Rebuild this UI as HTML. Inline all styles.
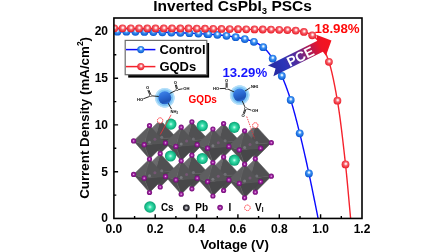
<!DOCTYPE html>
<html><head><meta charset="utf-8"><title>Inverted CsPbI3 PSCs</title>
<style>html,body{margin:0;padding:0;background:#fff;overflow:hidden}svg{display:block}</style></head>
<body>
<svg width="448" height="252" viewBox="0 0 448 252" font-family="Liberation Sans, Arial, sans-serif" font-weight="bold">
<defs>
<radialGradient id="gb" cx="0.5" cy="0.42" r="0.6" fx="0.52" fy="0.38"><stop offset="0" stop-color="#ffffff"/><stop offset="0.14" stop-color="#d8ecff"/><stop offset="0.4" stop-color="#3f93f2"/><stop offset="0.8" stop-color="#1467dc"/><stop offset="1" stop-color="#0b50c4"/></radialGradient>
<radialGradient id="gr" cx="0.5" cy="0.45" r="0.6" fx="0.56" fy="0.42"><stop offset="0" stop-color="#ffffff"/><stop offset="0.14" stop-color="#ffe4e4"/><stop offset="0.42" stop-color="#f4606a"/><stop offset="0.8" stop-color="#ee2832"/><stop offset="1" stop-color="#e41824"/></radialGradient>
<radialGradient id="gcs" cx="0.5" cy="0.5" r="0.55"><stop offset="0" stop-color="#d4fff4"/><stop offset="0.3" stop-color="#3ce0ac"/><stop offset="0.72" stop-color="#14b886"/><stop offset="1" stop-color="#0a8c66"/></radialGradient>
<radialGradient id="gi" cx="0.5" cy="0.5" r="0.55"><stop offset="0" stop-color="#f4b8f4"/><stop offset="0.4" stop-color="#9c249f"/><stop offset="1" stop-color="#6a066e"/></radialGradient>
<radialGradient id="gpb" cx="0.5" cy="0.5" r="0.55"><stop offset="0" stop-color="#d4d4dc"/><stop offset="0.28" stop-color="#9a9aa2"/><stop offset="0.52" stop-color="#3a3a40"/><stop offset="1" stop-color="#141418"/></radialGradient>
<linearGradient id="gq" x1="0.25" y1="0" x2="0.6" y2="1"><stop offset="0" stop-color="#3f86ea"/><stop offset="0.45" stop-color="#2a69d2"/><stop offset="0.8" stop-color="#1f54b6"/><stop offset="1" stop-color="#2f6fd6"/></linearGradient>
<radialGradient id="gh" cx="0.5" cy="0.5" r="0.5"><stop offset="0" stop-color="#78c0f4"/><stop offset="0.76" stop-color="#80c6f5"/><stop offset="0.82" stop-color="#a8d9f8"/><stop offset="0.94" stop-color="#bfe4fa"/><stop offset="1" stop-color="#e8f5fd" stop-opacity="0"/></radialGradient>
<linearGradient id="garr" x1="0" y1="0" x2="1" y2="0"><stop offset="0" stop-color="#26289e"/><stop offset="0.22" stop-color="#2a34b8"/><stop offset="0.45" stop-color="#5a2a98"/><stop offset="0.65" stop-color="#b01a54"/><stop offset="0.82" stop-color="#ee1426"/><stop offset="1" stop-color="#f6141e"/></linearGradient>
</defs>
<rect width="448" height="252" fill="#fff"/>
<text x="232.6" y="10.9" font-size="15.5" text-anchor="middle" fill="#000">Inverted CsPbI<tspan font-size="9.5" dy="3">3</tspan><tspan dy="-3"> PSCs</tspan></text>
<g>
<polygon points="144.3,135.4 160.2,120.0 154.9,139.2" fill="#6a6a6c" stroke="#6a6a6c" stroke-width="0.5" stroke-linejoin="round" />
<polygon points="160.2,120.0 176.2,137.4 154.9,139.2" fill="#505052" stroke="#505052" stroke-width="0.5" stroke-linejoin="round" />
<polygon points="144.3,135.4 154.9,139.2 160.2,153.5" fill="#5a5a5c" stroke="#5a5a5c" stroke-width="0.5" stroke-linejoin="round" />
<polygon points="154.9,139.2 176.2,137.4 160.2,153.5" fill="#4a4a4c" stroke="#4a4a4c" stroke-width="0.5" stroke-linejoin="round" />
<path d="M154.9,139.2 L160.2,120.0 M154.9,139.2 L144.3,135.4 M154.9,139.2 L176.2,137.4 M154.9,139.2 L160.2,153.5" stroke="#7a7a7c" stroke-width="0.45" fill="none" opacity="0.55"/>
<polygon points="176.0,137.2 191.9,121.8 186.6,140.9" fill="#6a6a6c" stroke="#6a6a6c" stroke-width="0.5" stroke-linejoin="round" />
<polygon points="191.9,121.8 207.9,139.2 186.6,140.9" fill="#505052" stroke="#505052" stroke-width="0.5" stroke-linejoin="round" />
<polygon points="176.0,137.2 186.6,140.9 191.9,155.2" fill="#5a5a5c" stroke="#5a5a5c" stroke-width="0.5" stroke-linejoin="round" />
<polygon points="186.6,140.9 207.9,139.2 191.9,155.2" fill="#4a4a4c" stroke="#4a4a4c" stroke-width="0.5" stroke-linejoin="round" />
<path d="M186.6,140.9 L191.9,121.8 M186.6,140.9 L176.0,137.2 M186.6,140.9 L207.9,139.2 M186.6,140.9 L191.9,155.2" stroke="#7a7a7c" stroke-width="0.45" fill="none" opacity="0.55"/>
<polygon points="207.7,138.9 223.6,123.5 218.3,142.7" fill="#6a6a6c" stroke="#6a6a6c" stroke-width="0.5" stroke-linejoin="round" />
<polygon points="223.6,123.5 239.6,140.9 218.3,142.7" fill="#505052" stroke="#505052" stroke-width="0.5" stroke-linejoin="round" />
<polygon points="207.7,138.9 218.3,142.7 223.6,157.0" fill="#5a5a5c" stroke="#5a5a5c" stroke-width="0.5" stroke-linejoin="round" />
<polygon points="218.3,142.7 239.6,140.9 223.6,157.0" fill="#4a4a4c" stroke="#4a4a4c" stroke-width="0.5" stroke-linejoin="round" />
<path d="M218.3,142.7 L223.6,123.5 M218.3,142.7 L207.7,138.9 M218.3,142.7 L239.6,140.9 M218.3,142.7 L223.6,157.0" stroke="#7a7a7c" stroke-width="0.45" fill="none" opacity="0.55"/>
<polygon points="239.4,140.7 255.3,125.2 250.0,144.4" fill="#6a6a6c" stroke="#6a6a6c" stroke-width="0.5" stroke-linejoin="round" />
<polygon points="255.3,125.2 271.3,142.7 250.0,144.4" fill="#505052" stroke="#505052" stroke-width="0.5" stroke-linejoin="round" />
<polygon points="239.4,140.7 250.0,144.4 255.3,158.8" fill="#5a5a5c" stroke="#5a5a5c" stroke-width="0.5" stroke-linejoin="round" />
<polygon points="250.0,144.4 271.3,142.7 255.3,158.8" fill="#4a4a4c" stroke="#4a4a4c" stroke-width="0.5" stroke-linejoin="round" />
<path d="M250.0,144.4 L255.3,125.2 M250.0,144.4 L239.4,140.7 M250.0,144.4 L271.3,142.7 M250.0,144.4 L255.3,158.8" stroke="#7a7a7c" stroke-width="0.45" fill="none" opacity="0.55"/>
<polygon points="144.3,168.9 160.2,153.5 154.9,172.7" fill="#6a6a6c" stroke="#6a6a6c" stroke-width="0.5" stroke-linejoin="round" />
<polygon points="160.2,153.5 176.2,170.9 154.9,172.7" fill="#505052" stroke="#505052" stroke-width="0.5" stroke-linejoin="round" />
<polygon points="144.3,168.9 154.9,172.7 160.2,187.0" fill="#5a5a5c" stroke="#5a5a5c" stroke-width="0.5" stroke-linejoin="round" />
<polygon points="154.9,172.7 176.2,170.9 160.2,187.0" fill="#4a4a4c" stroke="#4a4a4c" stroke-width="0.5" stroke-linejoin="round" />
<path d="M154.9,172.7 L160.2,153.5 M154.9,172.7 L144.3,168.9 M154.9,172.7 L176.2,170.9 M154.9,172.7 L160.2,187.0" stroke="#7a7a7c" stroke-width="0.45" fill="none" opacity="0.55"/>
<polygon points="176.0,170.7 191.9,155.2 186.6,174.4" fill="#6a6a6c" stroke="#6a6a6c" stroke-width="0.5" stroke-linejoin="round" />
<polygon points="191.9,155.2 207.9,172.7 186.6,174.4" fill="#505052" stroke="#505052" stroke-width="0.5" stroke-linejoin="round" />
<polygon points="176.0,170.7 186.6,174.4 191.9,188.8" fill="#5a5a5c" stroke="#5a5a5c" stroke-width="0.5" stroke-linejoin="round" />
<polygon points="186.6,174.4 207.9,172.7 191.9,188.8" fill="#4a4a4c" stroke="#4a4a4c" stroke-width="0.5" stroke-linejoin="round" />
<path d="M186.6,174.4 L191.9,155.2 M186.6,174.4 L176.0,170.7 M186.6,174.4 L207.9,172.7 M186.6,174.4 L191.9,188.8" stroke="#7a7a7c" stroke-width="0.45" fill="none" opacity="0.55"/>
<polygon points="207.7,172.4 223.6,157.0 218.3,176.2" fill="#6a6a6c" stroke="#6a6a6c" stroke-width="0.5" stroke-linejoin="round" />
<polygon points="223.6,157.0 239.6,174.4 218.3,176.2" fill="#505052" stroke="#505052" stroke-width="0.5" stroke-linejoin="round" />
<polygon points="207.7,172.4 218.3,176.2 223.6,190.5" fill="#5a5a5c" stroke="#5a5a5c" stroke-width="0.5" stroke-linejoin="round" />
<polygon points="218.3,176.2 239.6,174.4 223.6,190.5" fill="#4a4a4c" stroke="#4a4a4c" stroke-width="0.5" stroke-linejoin="round" />
<path d="M218.3,176.2 L223.6,157.0 M218.3,176.2 L207.7,172.4 M218.3,176.2 L239.6,174.4 M218.3,176.2 L223.6,190.5" stroke="#7a7a7c" stroke-width="0.45" fill="none" opacity="0.55"/>
<polygon points="239.4,174.2 255.3,158.8 250.0,177.9" fill="#6a6a6c" stroke="#6a6a6c" stroke-width="0.5" stroke-linejoin="round" />
<polygon points="255.3,158.8 271.3,176.2 250.0,177.9" fill="#505052" stroke="#505052" stroke-width="0.5" stroke-linejoin="round" />
<polygon points="239.4,174.2 250.0,177.9 255.3,192.2" fill="#5a5a5c" stroke="#5a5a5c" stroke-width="0.5" stroke-linejoin="round" />
<polygon points="250.0,177.9 271.3,176.2 255.3,192.2" fill="#4a4a4c" stroke="#4a4a4c" stroke-width="0.5" stroke-linejoin="round" />
<path d="M250.0,177.9 L255.3,158.8 M250.0,177.9 L239.4,174.2 M250.0,177.9 L271.3,176.2 M250.0,177.9 L255.3,192.2" stroke="#7a7a7c" stroke-width="0.45" fill="none" opacity="0.55"/>
<polygon points="133.6,140.9 149.5,125.5 144.2,144.7" fill="#5e5e60" stroke="#5e5e60" stroke-width="0.5" stroke-linejoin="round" />
<polygon points="149.5,125.5 165.5,142.9 144.2,144.7" fill="#545456" stroke="#545456" stroke-width="0.5" stroke-linejoin="round" />
<polygon points="133.6,140.9 144.2,144.7 149.5,159.0" fill="#505052" stroke="#505052" stroke-width="0.5" stroke-linejoin="round" />
<polygon points="144.2,144.7 165.5,142.9 149.5,159.0" fill="#474749" stroke="#474749" stroke-width="0.5" stroke-linejoin="round" />
<path d="M144.2,144.7 L149.5,125.5 M144.2,144.7 L133.6,140.9 M144.2,144.7 L165.5,142.9 M144.2,144.7 L149.5,159.0" stroke="#7a7a7c" stroke-width="0.45" fill="none" opacity="0.55"/>
<polygon points="165.3,142.7 181.2,127.2 175.9,146.4" fill="#5e5e60" stroke="#5e5e60" stroke-width="0.5" stroke-linejoin="round" />
<polygon points="181.2,127.2 197.2,144.7 175.9,146.4" fill="#545456" stroke="#545456" stroke-width="0.5" stroke-linejoin="round" />
<polygon points="165.3,142.7 175.9,146.4 181.2,160.8" fill="#505052" stroke="#505052" stroke-width="0.5" stroke-linejoin="round" />
<polygon points="175.9,146.4 197.2,144.7 181.2,160.8" fill="#474749" stroke="#474749" stroke-width="0.5" stroke-linejoin="round" />
<path d="M175.9,146.4 L181.2,127.2 M175.9,146.4 L165.3,142.7 M175.9,146.4 L197.2,144.7 M175.9,146.4 L181.2,160.8" stroke="#7a7a7c" stroke-width="0.45" fill="none" opacity="0.55"/>
<polygon points="197.0,144.4 212.9,129.0 207.6,148.2" fill="#5e5e60" stroke="#5e5e60" stroke-width="0.5" stroke-linejoin="round" />
<polygon points="212.9,129.0 228.9,146.4 207.6,148.2" fill="#545456" stroke="#545456" stroke-width="0.5" stroke-linejoin="round" />
<polygon points="197.0,144.4 207.6,148.2 212.9,162.5" fill="#505052" stroke="#505052" stroke-width="0.5" stroke-linejoin="round" />
<polygon points="207.6,148.2 228.9,146.4 212.9,162.5" fill="#474749" stroke="#474749" stroke-width="0.5" stroke-linejoin="round" />
<path d="M207.6,148.2 L212.9,129.0 M207.6,148.2 L197.0,144.4 M207.6,148.2 L228.9,146.4 M207.6,148.2 L212.9,162.5" stroke="#7a7a7c" stroke-width="0.45" fill="none" opacity="0.55"/>
<polygon points="228.7,146.2 244.6,130.8 239.3,149.9" fill="#5e5e60" stroke="#5e5e60" stroke-width="0.5" stroke-linejoin="round" />
<polygon points="244.6,130.8 260.6,148.2 239.3,149.9" fill="#545456" stroke="#545456" stroke-width="0.5" stroke-linejoin="round" />
<polygon points="228.7,146.2 239.3,149.9 244.6,164.2" fill="#505052" stroke="#505052" stroke-width="0.5" stroke-linejoin="round" />
<polygon points="239.3,149.9 260.6,148.2 244.6,164.2" fill="#474749" stroke="#474749" stroke-width="0.5" stroke-linejoin="round" />
<path d="M239.3,149.9 L244.6,130.8 M239.3,149.9 L228.7,146.2 M239.3,149.9 L260.6,148.2 M239.3,149.9 L244.6,164.2" stroke="#7a7a7c" stroke-width="0.45" fill="none" opacity="0.55"/>
<polygon points="133.6,174.4 149.5,159.0 144.2,178.2" fill="#5e5e60" stroke="#5e5e60" stroke-width="0.5" stroke-linejoin="round" />
<polygon points="149.5,159.0 165.5,176.4 144.2,178.2" fill="#545456" stroke="#545456" stroke-width="0.5" stroke-linejoin="round" />
<polygon points="133.6,174.4 144.2,178.2 149.5,192.5" fill="#505052" stroke="#505052" stroke-width="0.5" stroke-linejoin="round" />
<polygon points="144.2,178.2 165.5,176.4 149.5,192.5" fill="#474749" stroke="#474749" stroke-width="0.5" stroke-linejoin="round" />
<path d="M144.2,178.2 L149.5,159.0 M144.2,178.2 L133.6,174.4 M144.2,178.2 L165.5,176.4 M144.2,178.2 L149.5,192.5" stroke="#7a7a7c" stroke-width="0.45" fill="none" opacity="0.55"/>
<polygon points="165.3,176.2 181.2,160.8 175.9,179.9" fill="#5e5e60" stroke="#5e5e60" stroke-width="0.5" stroke-linejoin="round" />
<polygon points="181.2,160.8 197.2,178.2 175.9,179.9" fill="#545456" stroke="#545456" stroke-width="0.5" stroke-linejoin="round" />
<polygon points="165.3,176.2 175.9,179.9 181.2,194.2" fill="#505052" stroke="#505052" stroke-width="0.5" stroke-linejoin="round" />
<polygon points="175.9,179.9 197.2,178.2 181.2,194.2" fill="#474749" stroke="#474749" stroke-width="0.5" stroke-linejoin="round" />
<path d="M175.9,179.9 L181.2,160.8 M175.9,179.9 L165.3,176.2 M175.9,179.9 L197.2,178.2 M175.9,179.9 L181.2,194.2" stroke="#7a7a7c" stroke-width="0.45" fill="none" opacity="0.55"/>
<polygon points="197.0,177.9 212.9,162.5 207.6,181.7" fill="#5e5e60" stroke="#5e5e60" stroke-width="0.5" stroke-linejoin="round" />
<polygon points="212.9,162.5 228.9,179.9 207.6,181.7" fill="#545456" stroke="#545456" stroke-width="0.5" stroke-linejoin="round" />
<polygon points="197.0,177.9 207.6,181.7 212.9,196.0" fill="#505052" stroke="#505052" stroke-width="0.5" stroke-linejoin="round" />
<polygon points="207.6,181.7 228.9,179.9 212.9,196.0" fill="#474749" stroke="#474749" stroke-width="0.5" stroke-linejoin="round" />
<path d="M207.6,181.7 L212.9,162.5 M207.6,181.7 L197.0,177.9 M207.6,181.7 L228.9,179.9 M207.6,181.7 L212.9,196.0" stroke="#7a7a7c" stroke-width="0.45" fill="none" opacity="0.55"/>
<polygon points="228.7,179.7 244.6,164.2 239.3,183.4" fill="#5e5e60" stroke="#5e5e60" stroke-width="0.5" stroke-linejoin="round" />
<polygon points="244.6,164.2 260.6,181.7 239.3,183.4" fill="#545456" stroke="#545456" stroke-width="0.5" stroke-linejoin="round" />
<polygon points="228.7,179.7 239.3,183.4 244.6,197.8" fill="#505052" stroke="#505052" stroke-width="0.5" stroke-linejoin="round" />
<polygon points="239.3,183.4 260.6,181.7 244.6,197.8" fill="#474749" stroke="#474749" stroke-width="0.5" stroke-linejoin="round" />
<path d="M239.3,183.4 L244.6,164.2 M239.3,183.4 L228.7,179.7 M239.3,183.4 L260.6,181.7 M239.3,183.4 L244.6,197.8" stroke="#7a7a7c" stroke-width="0.45" fill="none" opacity="0.55"/>
<circle cx="149.5" cy="142.2" r="1.5" fill="#85858c" opacity="0.75"/>
<circle cx="154.9" cy="139.2" r="1.5" fill="#80587f" opacity="0.75"/>
<circle cx="161.7" cy="137.2" r="1.5" fill="#7a7a80" opacity="0.75"/>
<circle cx="181.2" cy="144.0" r="1.5" fill="#85858c" opacity="0.75"/>
<circle cx="186.6" cy="140.9" r="1.5" fill="#80587f" opacity="0.75"/>
<circle cx="193.4" cy="139.0" r="1.5" fill="#7a7a80" opacity="0.75"/>
<circle cx="212.9" cy="145.8" r="1.5" fill="#85858c" opacity="0.75"/>
<circle cx="218.3" cy="142.7" r="1.5" fill="#80587f" opacity="0.75"/>
<circle cx="225.1" cy="140.8" r="1.5" fill="#7a7a80" opacity="0.75"/>
<circle cx="244.6" cy="147.5" r="1.5" fill="#85858c" opacity="0.75"/>
<circle cx="250.0" cy="144.4" r="1.5" fill="#80587f" opacity="0.75"/>
<circle cx="256.8" cy="142.5" r="1.5" fill="#7a7a80" opacity="0.75"/>
<circle cx="149.5" cy="175.8" r="1.5" fill="#85858c" opacity="0.75"/>
<circle cx="154.9" cy="172.7" r="1.5" fill="#80587f" opacity="0.75"/>
<circle cx="161.7" cy="170.8" r="1.5" fill="#7a7a80" opacity="0.75"/>
<circle cx="181.2" cy="177.5" r="1.5" fill="#85858c" opacity="0.75"/>
<circle cx="186.6" cy="174.4" r="1.5" fill="#80587f" opacity="0.75"/>
<circle cx="193.4" cy="172.5" r="1.5" fill="#7a7a80" opacity="0.75"/>
<circle cx="212.9" cy="179.2" r="1.5" fill="#85858c" opacity="0.75"/>
<circle cx="218.3" cy="176.2" r="1.5" fill="#80587f" opacity="0.75"/>
<circle cx="225.1" cy="174.2" r="1.5" fill="#7a7a80" opacity="0.75"/>
<circle cx="244.6" cy="181.0" r="1.5" fill="#85858c" opacity="0.75"/>
<circle cx="250.0" cy="177.9" r="1.5" fill="#80587f" opacity="0.75"/>
<circle cx="256.8" cy="176.0" r="1.5" fill="#7a7a80" opacity="0.75"/>
<circle cx="149.5" cy="125.5" r="2.6" fill="url(#gi)"/>
<circle cx="144.2" cy="144.7" r="2.6" fill="url(#gi)"/>
<circle cx="133.6" cy="140.9" r="2.6" fill="url(#gi)"/>
<circle cx="165.5" cy="142.9" r="2.6" fill="url(#gi)"/>
<circle cx="181.2" cy="127.2" r="2.6" fill="url(#gi)"/>
<circle cx="175.9" cy="146.4" r="2.6" fill="url(#gi)"/>
<circle cx="197.2" cy="144.7" r="2.6" fill="url(#gi)"/>
<circle cx="191.9" cy="121.8" r="2.6" fill="url(#gi)"/>
<circle cx="212.9" cy="129.0" r="2.6" fill="url(#gi)"/>
<circle cx="207.6" cy="148.2" r="2.6" fill="url(#gi)"/>
<circle cx="228.9" cy="146.4" r="2.6" fill="url(#gi)"/>
<circle cx="223.6" cy="123.5" r="2.6" fill="url(#gi)"/>
<circle cx="244.6" cy="130.8" r="2.6" fill="url(#gi)"/>
<circle cx="239.3" cy="149.9" r="2.6" fill="url(#gi)"/>
<circle cx="260.6" cy="148.2" r="2.6" fill="url(#gi)"/>
<circle cx="271.3" cy="142.7" r="2.6" fill="url(#gi)"/>
<circle cx="149.5" cy="159.0" r="2.6" fill="url(#gi)"/>
<circle cx="144.2" cy="178.2" r="2.6" fill="url(#gi)"/>
<circle cx="133.6" cy="174.4" r="2.6" fill="url(#gi)"/>
<circle cx="165.5" cy="176.4" r="2.6" fill="url(#gi)"/>
<circle cx="149.5" cy="192.5" r="2.6" fill="url(#gi)"/>
<circle cx="160.2" cy="153.5" r="2.6" fill="url(#gi)"/>
<circle cx="160.2" cy="187.0" r="2.6" fill="url(#gi)"/>
<circle cx="181.2" cy="160.8" r="2.6" fill="url(#gi)"/>
<circle cx="175.9" cy="179.9" r="2.6" fill="url(#gi)"/>
<circle cx="197.2" cy="178.2" r="2.6" fill="url(#gi)"/>
<circle cx="181.2" cy="194.2" r="2.6" fill="url(#gi)"/>
<circle cx="191.9" cy="155.2" r="2.6" fill="url(#gi)"/>
<circle cx="191.9" cy="188.8" r="2.6" fill="url(#gi)"/>
<circle cx="212.9" cy="162.5" r="2.6" fill="url(#gi)"/>
<circle cx="207.6" cy="181.7" r="2.6" fill="url(#gi)"/>
<circle cx="228.9" cy="179.9" r="2.6" fill="url(#gi)"/>
<circle cx="212.9" cy="196.0" r="2.6" fill="url(#gi)"/>
<circle cx="223.6" cy="157.0" r="2.6" fill="url(#gi)"/>
<circle cx="223.6" cy="190.5" r="2.6" fill="url(#gi)"/>
<circle cx="244.6" cy="164.2" r="2.6" fill="url(#gi)"/>
<circle cx="239.3" cy="183.4" r="2.6" fill="url(#gi)"/>
<circle cx="260.6" cy="181.7" r="2.6" fill="url(#gi)"/>
<circle cx="244.6" cy="197.8" r="2.6" fill="url(#gi)"/>
<circle cx="255.3" cy="158.8" r="2.6" fill="url(#gi)"/>
<circle cx="255.3" cy="192.2" r="2.6" fill="url(#gi)"/>
<circle cx="271.3" cy="176.2" r="2.6" fill="url(#gi)"/>
<circle cx="170.9" cy="124.1" r="5.6" fill="url(#gcs)"/>
<circle cx="202.3" cy="125.7" r="5.6" fill="url(#gcs)"/>
<circle cx="234.3" cy="127.3" r="5.6" fill="url(#gcs)"/>
<circle cx="170.5" cy="156.0" r="5.6" fill="url(#gcs)"/>
<circle cx="202.3" cy="158.5" r="5.6" fill="url(#gcs)"/>
<circle cx="234.3" cy="160.2" r="5.6" fill="url(#gcs)"/>
</g>
<line x1="171.1" y1="114.8" x2="160.3" y2="134.5" stroke="#f03038" stroke-width="0.8"/>
<line x1="246.7" y1="116.5" x2="254.5" y2="138.3" stroke="#f03038" stroke-width="0.8" stroke-dasharray="1.6 0.9"/>
<circle cx="160.1" cy="120.5" r="2.7" fill="#fff" stroke="#ff3038" stroke-width="1" stroke-dasharray="1.4 0.7"/>
<circle cx="255.3" cy="125.4" r="2.7" fill="#fff" stroke="#ff3038" stroke-width="1" stroke-dasharray="1.4 0.7"/>
<circle cx="164.8" cy="97.8" r="10.4" fill="url(#gh)"/>
<g stroke="#111" stroke-width="0.9" fill="none">
<path d="M160,96.6 L151.3,95.8 M149.6,94.4 L147.8,90.2 M150.6,94.1 L148.8,89.9 M149.2,96.6 L143.3,98.8"/>
<path d="M169.5,93.6 L175.6,90.6 M176.3,88.5 L175.3,84.8 M177.3,88.3 L176.3,84.6 M178.2,89.6 L182.6,88.8"/>
<path d="M167.8,102.6 L171.6,109.2"/>
</g>
<g font-size="4.1" fill="#000" text-anchor="middle">
<text x="150.3" y="96.9">C</text><text x="147.5" y="89.4">O</text><text x="140.0" y="100.9">HO</text>
<text x="176.9" y="91.2">C</text><text x="175.4" y="84.1">O</text><text x="186.3" y="89.8">OH</text>
<text x="174.3" y="113.3">NH<tspan font-size="2.6" dy="0.8">2</tspan></text>
</g>
<circle cx="164.8" cy="97.8" r="6.5" fill="url(#gq)"/>
<circle cx="239.7" cy="95.1" r="10.4" fill="url(#gh)"/>
<g stroke="#111" stroke-width="0.9" fill="none">
<path d="M234.6,92.2 L227.8,89 M226.1,87 L226.1,82.6 M227.1,87 L227.1,82.6 M225.2,88.4 L219.6,88.6"/>
<path d="M244.8,91.2 L250.3,87.6"/>
<path d="M242.2,100.8 L244.9,106.9 M246.8,108.7 L251.4,110.2 M244.6,109.7 L243.3,113.6 M245.6,110.0 L244.3,113.9"/>
</g>
<g font-size="4.1" fill="#000" text-anchor="middle">
<text x="226.6" y="89.6">C</text><text x="226.6" y="82.0">O</text><text x="216.0" y="90.0">HO</text>
<text x="254.6" y="87.6">NH<tspan font-size="2.6" dy="0.8">2</tspan></text>
<text x="245.4" y="109.6">C</text><text x="255.1" y="112.2">OH</text><text x="243.2" y="117.2">O</text>
</g>
<circle cx="239.7" cy="95.1" r="6.5" fill="url(#gq)"/>
<text x="188.6" y="102.7" font-size="10" fill="#ff0000">GQDs</text>
<circle cx="150" cy="207" r="5.8" fill="url(#gcs)"/>
<text x="160.9" y="210.6" font-size="10" fill="#000">Cs</text>
<circle cx="186.3" cy="207.8" r="3.4" fill="url(#gpb)"/>
<text x="195.3" y="210.6" font-size="10" fill="#000">Pb</text>
<circle cx="220.1" cy="207.6" r="2.8" fill="url(#gi)"/>
<text x="228.6" y="210.6" font-size="10" fill="#000">I</text>
<circle cx="247.4" cy="207.8" r="2.8" fill="#fff" stroke="#ff3038" stroke-width="1" stroke-dasharray="1.4 0.7"/>
<text x="255.1" y="210.6" font-size="10" fill="#000">V<tspan font-size="6.5" dy="1.8">I</tspan></text>
<path d="M134.6,218.45 v-2.4 M155.2,218.45 v-4.2 M175.9,218.45 v-2.4 M196.6,218.45 v-4.2 M217.3,218.45 v-2.4 M237.9,218.45 v-4.2 M258.6,218.45 v-2.4 M279.3,218.45 v-4.2 M300.0,218.45 v-2.4 M320.6,218.45 v-4.2 M341.3,218.45 v-2.4 M113.9,195.1 h2.4 M113.9,171.7 h4.2 M113.9,148.3 h2.4 M113.9,124.9 h4.2 M113.9,101.6 h2.4 M113.9,78.2 h4.2 M113.9,54.8 h2.4 M113.9,31.4 h4.2" stroke="#000" stroke-width="1.4" fill="none"/>
<clipPath id="clipf"><rect x="113.9" y="18.0" width="248.1" height="200.45"/></clipPath>
<g clip-path="url(#clipf)">
<path d="M113.9,31.70 L114.4,31.70 L114.9,31.70 L115.4,31.70 L115.9,31.70 L116.4,31.70 L116.9,31.70 L117.4,31.70 L117.9,31.70 L118.4,31.70 L118.9,31.70 L119.4,31.70 L119.9,31.70 L120.4,31.70 L120.9,31.71 L121.4,31.71 L121.9,31.71 L122.4,31.71 L122.9,31.71 L123.4,31.72 L123.9,31.72 L124.4,31.72 L124.9,31.72 L125.4,31.73 L125.9,31.73 L126.4,31.73 L126.9,31.74 L127.4,31.74 L127.9,31.74 L128.4,31.75 L128.9,31.75 L129.4,31.76 L129.9,31.76 L130.4,31.76 L130.9,31.77 L131.4,31.77 L131.9,31.77 L132.4,31.78 L132.9,31.78 L133.4,31.79 L133.9,31.79 L134.4,31.80 L134.9,31.80 L135.4,31.80 L135.9,31.81 L136.4,31.81 L136.9,31.82 L137.4,31.82 L137.9,31.83 L138.4,31.83 L138.9,31.84 L139.4,31.84 L139.9,31.85 L140.4,31.86 L140.9,31.86 L141.4,31.87 L141.9,31.88 L142.4,31.88 L142.9,31.89 L143.4,31.90 L143.9,31.90 L144.4,31.91 L144.9,31.92 L145.4,31.93 L145.9,31.94 L146.4,31.94 L146.9,31.95 L147.4,31.96 L147.9,31.97 L148.4,31.98 L148.9,31.99 L149.4,31.99 L149.9,32.00 L150.4,32.01 L150.9,32.02 L151.4,32.03 L151.9,32.04 L152.4,32.05 L152.9,32.06 L153.4,32.07 L153.9,32.08 L154.4,32.09 L154.9,32.10 L155.4,32.11 L155.9,32.12 L156.4,32.13 L156.9,32.14 L157.4,32.15 L157.9,32.16 L158.4,32.17 L158.9,32.19 L159.4,32.20 L159.9,32.21 L160.4,32.23 L160.9,32.24 L161.4,32.25 L161.9,32.27 L162.4,32.28 L162.9,32.29 L163.4,32.31 L163.9,32.32 L164.4,32.34 L164.9,32.35 L165.4,32.37 L165.9,32.38 L166.4,32.40 L166.9,32.41 L167.4,32.43 L167.9,32.44 L168.4,32.46 L168.9,32.48 L169.4,32.49 L169.9,32.51 L170.4,32.52 L170.9,32.54 L171.4,32.55 L171.9,32.57 L172.4,32.58 L172.9,32.60 L173.4,32.62 L173.9,32.63 L174.4,32.65 L174.9,32.66 L175.4,32.68 L175.9,32.69 L176.4,32.71 L176.9,32.72 L177.4,32.74 L177.9,32.75 L178.4,32.77 L178.9,32.79 L179.4,32.80 L179.9,32.82 L180.4,32.83 L180.9,32.85 L181.4,32.87 L181.9,32.88 L182.4,32.90 L182.9,32.92 L183.4,32.93 L183.9,32.95 L184.4,32.97 L184.9,32.99 L185.4,33.00 L185.9,33.02 L186.4,33.04 L186.9,33.06 L187.4,33.08 L187.9,33.10 L188.4,33.12 L188.9,33.14 L189.4,33.16 L189.9,33.18 L190.4,33.20 L190.9,33.22 L191.4,33.24 L191.9,33.27 L192.4,33.29 L192.9,33.31 L193.4,33.34 L193.9,33.36 L194.4,33.39 L194.9,33.41 L195.4,33.44 L195.9,33.46 L196.4,33.49 L196.9,33.52 L197.4,33.55 L197.9,33.57 L198.4,33.60 L198.9,33.63 L199.4,33.66 L199.9,33.69 L200.4,33.72 L200.9,33.75 L201.4,33.78 L201.9,33.80 L202.4,33.83 L202.9,33.86 L203.4,33.90 L203.9,33.93 L204.4,33.96 L204.9,33.99 L205.4,34.02 L205.9,34.05 L206.4,34.08 L206.9,34.11 L207.4,34.14 L207.9,34.17 L208.4,34.20 L208.9,34.23 L209.4,34.26 L209.9,34.29 L210.4,34.32 L210.9,34.35 L211.4,34.38 L211.9,34.41 L212.4,34.44 L212.9,34.47 L213.4,34.50 L213.9,34.54 L214.4,34.57 L214.9,34.60 L215.4,34.64 L215.9,34.68 L216.4,34.71 L216.9,34.75 L217.4,34.79 L217.9,34.83 L218.4,34.88 L218.9,34.92 L219.4,34.97 L219.9,35.02 L220.4,35.07 L220.9,35.12 L221.4,35.18 L221.9,35.23 L222.4,35.29 L222.9,35.35 L223.4,35.40 L223.9,35.46 L224.4,35.52 L224.9,35.59 L225.4,35.65 L225.9,35.71 L226.4,35.77 L226.9,35.84 L227.4,35.90 L227.9,35.97 L228.4,36.04 L228.9,36.11 L229.4,36.18 L229.9,36.26 L230.4,36.33 L230.9,36.41 L231.4,36.48 L231.9,36.56 L232.4,36.64 L232.9,36.72 L233.4,36.81 L233.9,36.89 L234.4,36.97 L234.9,37.06 L235.4,37.15 L235.9,37.24 L236.4,37.33 L236.9,37.42 L237.4,37.51 L237.9,37.60 L238.4,37.70 L238.9,37.80 L239.4,37.90 L239.9,38.00 L240.4,38.10 L240.9,38.21 L241.4,38.32 L241.9,38.43 L242.4,38.54 L242.9,38.65 L243.4,38.77 L243.9,38.88 L244.4,39.00 L244.9,39.12 L245.4,39.25 L245.9,39.37 L246.4,39.50 L246.9,39.62 L247.4,39.75 L247.9,39.88 L248.4,40.02 L248.9,40.16 L249.4,40.30 L249.9,40.44 L250.4,40.59 L250.9,40.75 L251.4,40.91 L251.9,41.07 L252.4,41.25 L252.9,41.42 L253.4,41.61 L253.9,41.80 L254.4,42.00 L254.9,42.21 L255.4,42.43 L255.9,42.65 L256.4,42.89 L256.9,43.14 L257.4,43.40 L257.9,43.66 L258.4,43.94 L258.9,44.23 L259.4,44.53 L259.9,44.84 L260.4,45.16 L260.9,45.49 L261.4,45.83 L261.9,46.18 L262.4,46.55 L262.9,46.92 L263.4,47.32 L263.9,47.74 L264.4,48.19 L264.9,48.67 L265.4,49.17 L265.9,49.69 L266.4,50.24 L266.9,50.81 L267.4,51.40 L267.9,52.01 L268.4,52.64 L268.9,53.28 L269.4,53.94 L269.9,54.61 L270.4,55.30 L270.9,56.00 L271.4,56.70 L271.9,57.42 L272.4,58.15 L272.9,58.89 L273.4,59.67 L273.9,60.47 L274.4,61.29 L274.9,62.14 L275.4,63.02 L275.9,63.92 L276.4,64.84 L276.9,65.78 L277.4,66.74 L277.9,67.72 L278.4,68.72 L278.9,69.74 L279.4,70.78 L279.9,71.83 L280.4,72.90 L280.9,73.98 L281.4,75.08 L281.9,76.19 L282.4,77.34 L282.9,78.51 L283.4,79.70 L283.9,80.93 L284.4,82.18 L284.9,83.45 L285.4,84.75 L285.9,86.08 L286.4,87.43 L286.9,88.81 L287.4,90.20 L287.9,91.63 L288.4,93.07 L288.9,94.54 L289.4,96.03 L289.9,97.55 L290.4,99.08 L290.9,100.64 L291.4,102.24 L291.9,103.89 L292.4,105.58 L292.9,107.31 L293.4,109.07 L293.9,110.87 L294.4,112.69 L294.9,114.55 L295.4,116.43 L295.9,118.33 L296.4,120.26 L296.9,122.20 L297.4,124.16 L297.9,126.13 L298.4,128.12 L298.9,130.11 L299.4,132.10 L299.9,134.10 L300.4,136.12 L300.9,138.17 L301.4,140.24 L301.9,142.33 L302.4,144.44 L302.9,146.58 L303.4,148.73 L303.9,150.90 L304.4,153.09 L304.9,155.30 L305.4,157.52 L305.9,159.75 L306.4,162.00 L306.9,164.26 L307.4,166.53 L307.9,168.81 L308.4,171.10 L308.9,173.40 L309.4,175.72 L309.9,178.06 L310.4,180.43 L310.9,182.82 L311.4,185.24 L311.9,187.67 L312.4,190.11 L312.9,192.57 L313.4,195.04 L313.9,197.51 L314.4,200.00 L314.9,202.48 L315.4,204.97 L315.9,207.45 L316.4,209.93 L316.9,212.41 L317.4,214.87 L317.9,217.32 L318.1,218.30" fill="none" stroke="#0a0aff" stroke-width="1.4"/>
<circle cx="117.4" cy="31.7" r="3.9" fill="url(#gb)"/>
<circle cx="126.4" cy="31.7" r="3.9" fill="url(#gb)"/>
<circle cx="135.4" cy="31.8" r="3.9" fill="url(#gb)"/>
<circle cx="144.4" cy="31.9" r="3.9" fill="url(#gb)"/>
<circle cx="153.4" cy="32.1" r="3.9" fill="url(#gb)"/>
<circle cx="162.4" cy="32.3" r="3.9" fill="url(#gb)"/>
<circle cx="171.4" cy="32.6" r="3.9" fill="url(#gb)"/>
<circle cx="180.4" cy="32.8" r="3.9" fill="url(#gb)"/>
<circle cx="189.4" cy="33.2" r="3.9" fill="url(#gb)"/>
<circle cx="198.4" cy="33.6" r="3.9" fill="url(#gb)"/>
<circle cx="207.4" cy="34.1" r="3.9" fill="url(#gb)"/>
<circle cx="208.3" cy="34.2" r="3.9" fill="url(#gb)"/>
<circle cx="217.4" cy="34.8" r="3.9" fill="url(#gb)"/>
<circle cx="226.5" cy="35.8" r="3.9" fill="url(#gb)"/>
<circle cx="235.7" cy="37.2" r="3.9" fill="url(#gb)"/>
<circle cx="244.8" cy="39.1" r="3.9" fill="url(#gb)"/>
<circle cx="253.9" cy="41.8" r="3.9" fill="url(#gb)"/>
<circle cx="263.2" cy="47.2" r="3.9" fill="url(#gb)"/>
<circle cx="272.7" cy="58.6" r="3.9" fill="url(#gb)"/>
<circle cx="281.8" cy="76.0" r="3.9" fill="url(#gb)"/>
<circle cx="290.7" cy="100.0" r="3.9" fill="url(#gb)"/>
<circle cx="299.7" cy="133.3" r="3.9" fill="url(#gb)"/>
<circle cx="308.9" cy="173.4" r="3.9" fill="url(#gb)"/>
<path d="M113.9,28.30 L114.4,28.30 L114.9,28.30 L115.4,28.30 L115.9,28.31 L116.4,28.31 L116.9,28.31 L117.4,28.31 L117.9,28.31 L118.4,28.31 L118.9,28.31 L119.4,28.31 L119.9,28.31 L120.4,28.32 L120.9,28.32 L121.4,28.32 L121.9,28.32 L122.4,28.32 L122.9,28.32 L123.4,28.32 L123.9,28.32 L124.4,28.32 L124.9,28.33 L125.4,28.33 L125.9,28.33 L126.4,28.33 L126.9,28.33 L127.4,28.33 L127.9,28.33 L128.4,28.33 L128.9,28.33 L129.4,28.34 L129.9,28.34 L130.4,28.34 L130.9,28.34 L131.4,28.34 L131.9,28.34 L132.4,28.34 L132.9,28.34 L133.4,28.34 L133.9,28.34 L134.4,28.34 L134.9,28.35 L135.4,28.35 L135.9,28.35 L136.4,28.35 L136.9,28.35 L137.4,28.35 L137.9,28.35 L138.4,28.35 L138.9,28.35 L139.4,28.35 L139.9,28.36 L140.4,28.36 L140.9,28.36 L141.4,28.36 L141.9,28.36 L142.4,28.36 L142.9,28.36 L143.4,28.36 L143.9,28.36 L144.4,28.36 L144.9,28.36 L145.4,28.37 L145.9,28.37 L146.4,28.37 L146.9,28.37 L147.4,28.37 L147.9,28.37 L148.4,28.37 L148.9,28.37 L149.4,28.37 L149.9,28.37 L150.4,28.38 L150.9,28.38 L151.4,28.38 L151.9,28.38 L152.4,28.38 L152.9,28.38 L153.4,28.38 L153.9,28.38 L154.4,28.38 L154.9,28.39 L155.4,28.39 L155.9,28.39 L156.4,28.39 L156.9,28.39 L157.4,28.39 L157.9,28.39 L158.4,28.39 L158.9,28.39 L159.4,28.40 L159.9,28.40 L160.4,28.40 L160.9,28.40 L161.4,28.40 L161.9,28.40 L162.4,28.40 L162.9,28.40 L163.4,28.41 L163.9,28.41 L164.4,28.41 L164.9,28.41 L165.4,28.41 L165.9,28.41 L166.4,28.41 L166.9,28.41 L167.4,28.42 L167.9,28.42 L168.4,28.42 L168.9,28.42 L169.4,28.42 L169.9,28.42 L170.4,28.42 L170.9,28.43 L171.4,28.43 L171.9,28.43 L172.4,28.43 L172.9,28.43 L173.4,28.43 L173.9,28.44 L174.4,28.44 L174.9,28.44 L175.4,28.44 L175.9,28.44 L176.4,28.44 L176.9,28.45 L177.4,28.45 L177.9,28.45 L178.4,28.45 L178.9,28.45 L179.4,28.45 L179.9,28.46 L180.4,28.46 L180.9,28.46 L181.4,28.46 L181.9,28.46 L182.4,28.47 L182.9,28.47 L183.4,28.47 L183.9,28.47 L184.4,28.47 L184.9,28.48 L185.4,28.48 L185.9,28.48 L186.4,28.48 L186.9,28.49 L187.4,28.49 L187.9,28.49 L188.4,28.49 L188.9,28.49 L189.4,28.50 L189.9,28.50 L190.4,28.50 L190.9,28.50 L191.4,28.51 L191.9,28.51 L192.4,28.51 L192.9,28.52 L193.4,28.52 L193.9,28.53 L194.4,28.53 L194.9,28.54 L195.4,28.54 L195.9,28.55 L196.4,28.55 L196.9,28.56 L197.4,28.56 L197.9,28.57 L198.4,28.57 L198.9,28.58 L199.4,28.59 L199.9,28.59 L200.4,28.60 L200.9,28.60 L201.4,28.61 L201.9,28.62 L202.4,28.63 L202.9,28.63 L203.4,28.64 L203.9,28.65 L204.4,28.66 L204.9,28.66 L205.4,28.67 L205.9,28.68 L206.4,28.69 L206.9,28.70 L207.4,28.70 L207.9,28.71 L208.4,28.72 L208.9,28.73 L209.4,28.74 L209.9,28.75 L210.4,28.75 L210.9,28.76 L211.4,28.77 L211.9,28.78 L212.4,28.79 L212.9,28.80 L213.4,28.81 L213.9,28.81 L214.4,28.82 L214.9,28.83 L215.4,28.84 L215.9,28.85 L216.4,28.86 L216.9,28.87 L217.4,28.88 L217.9,28.88 L218.4,28.89 L218.9,28.90 L219.4,28.91 L219.9,28.92 L220.4,28.93 L220.9,28.93 L221.4,28.94 L221.9,28.95 L222.4,28.96 L222.9,28.97 L223.4,28.98 L223.9,28.98 L224.4,28.99 L224.9,29.00 L225.4,29.01 L225.9,29.01 L226.4,29.02 L226.9,29.03 L227.4,29.04 L227.9,29.05 L228.4,29.05 L228.9,29.06 L229.4,29.07 L229.9,29.08 L230.4,29.09 L230.9,29.10 L231.4,29.10 L231.9,29.11 L232.4,29.12 L232.9,29.13 L233.4,29.14 L233.9,29.15 L234.4,29.16 L234.9,29.16 L235.4,29.17 L235.9,29.18 L236.4,29.19 L236.9,29.20 L237.4,29.21 L237.9,29.22 L238.4,29.23 L238.9,29.23 L239.4,29.24 L239.9,29.25 L240.4,29.26 L240.9,29.27 L241.4,29.28 L241.9,29.28 L242.4,29.29 L242.9,29.30 L243.4,29.31 L243.9,29.32 L244.4,29.32 L244.9,29.33 L245.4,29.34 L245.9,29.35 L246.4,29.35 L246.9,29.36 L247.4,29.37 L247.9,29.37 L248.4,29.38 L248.9,29.39 L249.4,29.39 L249.9,29.40 L250.4,29.40 L250.9,29.41 L251.4,29.42 L251.9,29.42 L252.4,29.43 L252.9,29.43 L253.4,29.44 L253.9,29.44 L254.4,29.45 L254.9,29.45 L255.4,29.45 L255.9,29.46 L256.4,29.46 L256.9,29.47 L257.4,29.47 L257.9,29.47 L258.4,29.48 L258.9,29.48 L259.4,29.49 L259.9,29.49 L260.4,29.49 L260.9,29.50 L261.4,29.50 L261.9,29.51 L262.4,29.51 L262.9,29.51 L263.4,29.52 L263.9,29.52 L264.4,29.53 L264.9,29.53 L265.4,29.54 L265.9,29.54 L266.4,29.55 L266.9,29.55 L267.4,29.56 L267.9,29.57 L268.4,29.57 L268.9,29.58 L269.4,29.59 L269.9,29.59 L270.4,29.60 L270.9,29.61 L271.4,29.62 L271.9,29.63 L272.4,29.64 L272.9,29.65 L273.4,29.66 L273.9,29.67 L274.4,29.69 L274.9,29.70 L275.4,29.72 L275.9,29.73 L276.4,29.74 L276.9,29.76 L277.4,29.77 L277.9,29.79 L278.4,29.80 L278.9,29.82 L279.4,29.83 L279.9,29.85 L280.4,29.86 L280.9,29.88 L281.4,29.89 L281.9,29.91 L282.4,29.93 L282.9,29.94 L283.4,29.96 L283.9,29.98 L284.4,30.00 L284.9,30.02 L285.4,30.04 L285.9,30.06 L286.4,30.08 L286.9,30.10 L287.4,30.12 L287.9,30.14 L288.4,30.17 L288.9,30.19 L289.4,30.21 L289.9,30.24 L290.4,30.27 L290.9,30.29 L291.4,30.32 L291.9,30.35 L292.4,30.38 L292.9,30.41 L293.4,30.45 L293.9,30.48 L294.4,30.52 L294.9,30.56 L295.4,30.60 L295.9,30.64 L296.4,30.69 L296.9,30.75 L297.4,30.80 L297.9,30.86 L298.4,30.93 L298.9,31.00 L299.4,31.07 L299.9,31.15 L300.4,31.23 L300.9,31.31 L301.4,31.40 L301.9,31.50 L302.4,31.59 L302.9,31.69 L303.4,31.80 L303.9,31.91 L304.4,32.02 L304.9,32.15 L305.4,32.28 L305.9,32.43 L306.4,32.59 L306.9,32.76 L307.4,32.95 L307.9,33.14 L308.4,33.35 L308.9,33.57 L309.4,33.80 L309.9,34.04 L310.4,34.29 L310.9,34.55 L311.4,34.82 L311.9,35.10 L312.4,35.40 L312.9,35.72 L313.4,36.07 L313.9,36.45 L314.4,36.85 L314.9,37.27 L315.4,37.72 L315.9,38.19 L316.4,38.69 L316.9,39.21 L317.4,39.75 L317.9,40.31 L318.4,40.89 L318.9,41.49 L319.4,42.12 L319.9,42.76 L320.4,43.43 L320.9,44.12 L321.4,44.86 L321.9,45.65 L322.4,46.49 L322.9,47.38 L323.4,48.32 L323.9,49.31 L324.4,50.35 L324.9,51.44 L325.4,52.57 L325.9,53.75 L326.4,54.98 L326.9,56.25 L327.4,57.57 L327.9,58.94 L328.4,60.35 L328.9,61.80 L329.4,63.33 L329.9,64.98 L330.4,66.74 L330.9,68.61 L331.4,70.58 L331.9,72.65 L332.4,74.81 L332.9,77.07 L333.4,79.41 L333.9,81.83 L334.4,84.32 L334.9,86.90 L335.4,89.54 L335.9,92.24 L336.4,95.01 L336.9,97.83 L337.4,100.70 L337.9,103.69 L338.4,106.84 L338.9,110.15 L339.4,113.61 L339.9,117.21 L340.4,120.95 L340.9,124.80 L341.4,128.77 L341.9,132.84 L342.4,137.00 L342.9,141.25 L343.4,145.58 L343.9,149.97 L344.4,154.42 L344.9,158.91 L345.4,163.44 L345.9,168.11 L346.4,173.01 L346.9,178.13 L347.4,183.40 L347.9,188.80 L348.4,194.28 L348.9,199.79 L349.4,205.31 L349.9,210.79 L350.4,216.18 L350.6,218.30" fill="none" stroke="#f5222c" stroke-width="1.4"/>
<circle cx="114.3" cy="28.3" r="3.9" fill="url(#gr)"/>
<circle cx="122.5" cy="28.3" r="3.9" fill="url(#gr)"/>
<circle cx="130.8" cy="28.3" r="3.9" fill="url(#gr)"/>
<circle cx="139.0" cy="28.4" r="3.9" fill="url(#gr)"/>
<circle cx="147.3" cy="28.4" r="3.9" fill="url(#gr)"/>
<circle cx="155.5" cy="28.4" r="3.9" fill="url(#gr)"/>
<circle cx="163.8" cy="28.4" r="3.9" fill="url(#gr)"/>
<circle cx="172.0" cy="28.4" r="3.9" fill="url(#gr)"/>
<circle cx="180.3" cy="28.5" r="3.9" fill="url(#gr)"/>
<circle cx="188.5" cy="28.5" r="3.9" fill="url(#gr)"/>
<circle cx="196.8" cy="28.6" r="3.9" fill="url(#gr)"/>
<circle cx="205.0" cy="28.7" r="3.9" fill="url(#gr)"/>
<circle cx="213.2" cy="28.8" r="3.9" fill="url(#gr)"/>
<circle cx="221.5" cy="28.9" r="3.9" fill="url(#gr)"/>
<circle cx="229.7" cy="29.1" r="3.9" fill="url(#gr)"/>
<circle cx="238.0" cy="29.2" r="3.9" fill="url(#gr)"/>
<circle cx="246.2" cy="29.3" r="3.9" fill="url(#gr)"/>
<circle cx="254.5" cy="29.4" r="3.9" fill="url(#gr)"/>
<circle cx="262.7" cy="29.5" r="3.9" fill="url(#gr)"/>
<circle cx="271.0" cy="29.6" r="3.9" fill="url(#gr)"/>
<circle cx="279.2" cy="29.8" r="3.9" fill="url(#gr)"/>
<circle cx="287.4" cy="30.1" r="3.9" fill="url(#gr)"/>
<circle cx="295.7" cy="30.6" r="3.9" fill="url(#gr)"/>
<circle cx="303.9" cy="31.9" r="3.9" fill="url(#gr)"/>
<circle cx="312.2" cy="35.3" r="3.9" fill="url(#gr)"/>
<circle cx="320.6" cy="43.7" r="3.9" fill="url(#gr)"/>
<circle cx="328.9" cy="61.8" r="3.9" fill="url(#gr)"/>
<circle cx="337.4" cy="100.7" r="3.9" fill="url(#gr)"/>
<circle cx="345.5" cy="164.4" r="3.9" fill="url(#gr)"/>
<g transform="translate(270.65,70.85) rotate(-26.5)">
<polygon points="0,-6.1 55.3,-6.1 56.9,-12.0 68.0,-0.1 56.2,11.2 55.3,6.1 0,6.1 5.5,0" fill="url(#garr)"/>
<text x="33.0" y="5.1" font-size="13.8" fill="#fff" text-anchor="middle">PCE</text>
</g>
</g>
<text x="222.4" y="77.4" font-size="13.2" fill="#1414ff">13.29%</text>
<text x="314.6" y="32.5" font-size="13.3" fill="#ff0a0a">18.98%</text>
<rect x="128.2" y="43" width="80.9" height="34.6" fill="#000"/>
<rect x="125.2" y="40.4" width="81.6" height="34.3" fill="#fff" stroke="#6c6c6c" stroke-width="1.2"/>
<line x1="126" y1="49.6" x2="155.4" y2="49.6" stroke="#0a0aff" stroke-width="1.5"/>
<circle cx="140.8" cy="49.6" r="3.6" fill="url(#gb)"/>
<line x1="126" y1="66.6" x2="155.4" y2="66.6" stroke="#f5222c" stroke-width="1.5"/>
<circle cx="140.8" cy="66.6" r="3.6" fill="url(#gr)"/>
<text x="159.4" y="54.4" font-size="13" fill="#000">Control</text>
<text x="159.4" y="70.9" font-size="13" fill="#000">GQDs</text>
<rect x="113.9" y="18.0" width="248.1" height="200.45" fill="none" stroke="#000" stroke-width="1.6"/>
<text x="113.9" y="233.3" font-size="12" text-anchor="middle" fill="#000">0.0</text>
<text x="155.2" y="233.3" font-size="12" text-anchor="middle" fill="#000">0.2</text>
<text x="196.6" y="233.3" font-size="12" text-anchor="middle" fill="#000">0.4</text>
<text x="237.9" y="233.3" font-size="12" text-anchor="middle" fill="#000">0.6</text>
<text x="279.3" y="233.3" font-size="12" text-anchor="middle" fill="#000">0.8</text>
<text x="320.6" y="233.3" font-size="12" text-anchor="middle" fill="#000">1.0</text>
<text x="362.0" y="233.3" font-size="12" text-anchor="middle" fill="#000">1.2</text>
<text x="108" y="222.4" font-size="12" text-anchor="end" fill="#000">0</text>
<text x="108" y="175.7" font-size="12" text-anchor="end" fill="#000">5</text>
<text x="108" y="128.9" font-size="12" text-anchor="end" fill="#000">10</text>
<text x="108" y="82.2" font-size="12" text-anchor="end" fill="#000">15</text>
<text x="108" y="35.4" font-size="12" text-anchor="end" fill="#000">20</text>
<text x="234.6" y="249" font-size="13.3" text-anchor="middle" fill="#000">Voltage (V)</text>
<text transform="translate(88.6,117.9) rotate(-90)" font-size="13.35" text-anchor="middle" fill="#000">Current Density (mA/cm<tspan font-size="8.5" dy="-5.2">2</tspan><tspan dy="5.2">)</tspan></text>
</svg>
</body></html>
